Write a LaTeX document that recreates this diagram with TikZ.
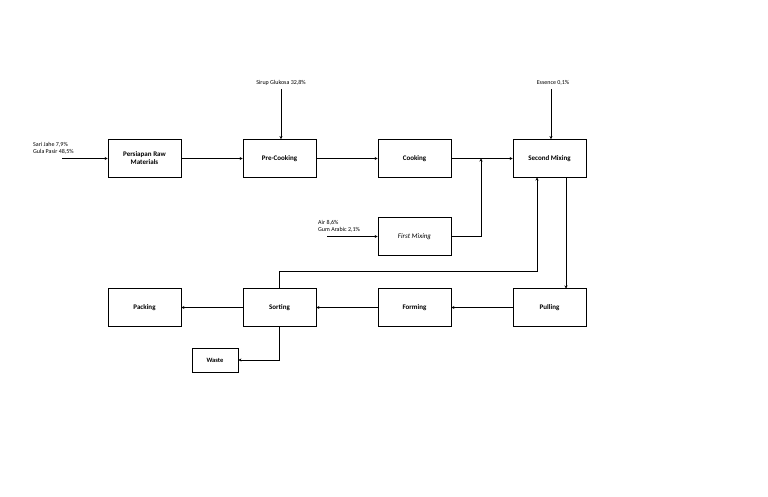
\documentclass[tikz,border=0pt]{standalone}
\usepackage{fontspec}
\setmainfont{Carlito}
\usetikzlibrary{arrows.meta}
\begin{document}
\begin{tikzpicture}[x=1pt,y=-1pt,
 box/.style={draw,thick,minimum width=73pt,minimum height=38pt,inner sep=0pt,align=center,font=\fontsize{7}{8}\selectfont\bfseries},
 lbl/.style={font=\fontsize{6}{7}\selectfont,inner sep=0pt,align=left},
 ar/.style={-{Stealth[length=3pt,width=3pt]},thin},
 thk/.style={-{Stealth[length=3pt,width=3pt]},line width=1.2pt}]
\useasboundingbox (0,0) rectangle (768,497);
\node[box] (raw) at (144.5,158.5) {Persiapan Raw\\Materials};
\node[box] (pre) at (279.5,158.5) {Pre-Cooking};
\node[box] (cook) at (414.5,158.5) {Cooking};
\node[box] (sec) at (549.5,158.5) {Second Mixing};
\node[box,font=\fontsize{7}{8}\selectfont\itshape] (first) at (414.5,236.5) {First Mixing};
\node[box] (pack) at (144.5,307.5) {Packing};
\node[box] (sort) at (279.5,307.5) {Sorting};
\node[box] (form) at (414.5,307.5) {Forming};
\node[box] (pull) at (549.5,307.5) {Pulling};
\node[draw,thick,minimum width=46pt,minimum height=24pt,inner sep=0pt,font=\fontsize{6.5}{7}\selectfont\bfseries] (waste) at (215,360) {Waste};
\node[lbl,anchor=south west] (sj) at (33,154) {Sari Jahe 7,9\%\\Gula Pasir 48,5\%};
\coordinate (sjs) at (62,158.5);
\node[lbl] (sg) at (281,83) {Sirup Glukosa 32,8\%};
\node[lbl] (es) at (553,83) {Essence 0,1\%};
\node[lbl,anchor=south west] (air) at (318,232) {Air 8,6\%\\Gum Arabic 2,1\%};
\coordinate (airs) at (327,236.5);
\coordinate (j) at (481,158.5);
\draw[ar] (sjs) -- (raw);
\draw[ar] (raw) -- (pre);
\draw[ar] (pre) -- (cook);
\draw[ar] (cook) -- (sec);
\draw[ar] (281,89) -- (pre.north -| 281,0);
\draw[ar] (551,89) -- (sec.north -| 551,0);
\draw[ar] (airs) -- (first);
\draw[ar] (first.east) -| (j);
\draw[ar] (566,177.5) -- (566,288.5);
\draw[thk] (pull) -- (form);
\draw[thk] (form) -- (sort);
\draw[thk] (sort) -- (pack);
\draw[ar] (sort.north) -- (279.5,271) -| (537,177.5);
\draw[ar] (sort.south) |- (waste.east);
\end{tikzpicture}
\end{document}
